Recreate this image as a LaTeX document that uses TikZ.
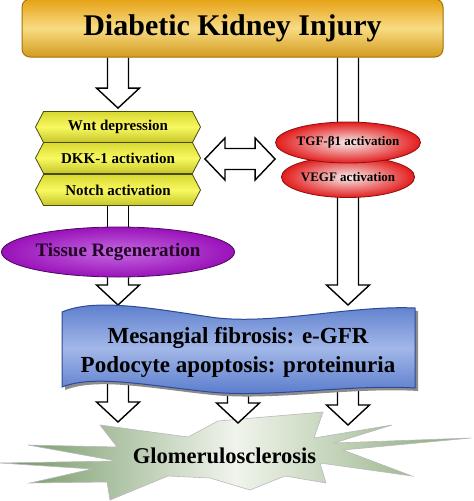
\documentclass[tikz,border=0pt]{standalone}
\usepackage{fontspec}
\setmainfont{Liberation Serif}
\usetikzlibrary{calc,shapes.symbols,shapes.geometric}
\pgfdeclarelayer{burst}
\pgfdeclarelayer{arrows}
\pgfsetlayers{burst,arrows,main}
\definecolor{gd1}{HTML}{E5A114}
\definecolor{gd2}{HTML}{F8DC84}
\definecolor{gd3}{HTML}{D39B1E}
\definecolor{gdb}{HTML}{A67208}
\definecolor{yc1}{HTML}{D8D832}
\definecolor{yc2}{HTML}{F8F860}
\definecolor{yc3}{HTML}{C6C62A}
\definecolor{ycb}{HTML}{4A4A12}
\definecolor{rd1}{HTML}{F6ECEC}
\definecolor{rd2}{HTML}{E41C1C}
\definecolor{rdb}{HTML}{8A1010}
\definecolor{pp1}{HTML}{C46AE0}
\definecolor{pp2}{HTML}{9A12BA}
\definecolor{ppb}{HTML}{4A0A5A}
\definecolor{ppt}{HTML}{240026}
\definecolor{bl1}{HTML}{5477CA}
\definecolor{bl2}{HTML}{A3B8E8}
\definecolor{blb}{HTML}{2C4A96}
\definecolor{sg1}{HTML}{6F9460}
\definecolor{sg2}{HTML}{F0F4EC}
\definecolor{sg3}{HTML}{86A674}
\tikzset{
 barrow/.style={draw=black,fill=white,line width=1.4pt,line join=miter},
 dkibox/.style={draw=gdb,line width=1pt,rounded corners=8pt,minimum width=421pt,minimum height=58pt,
   top color=gd1,bottom color=gd3,middle color=gd2,font=\fontsize{30}{36}\selectfont\bfseries},
 hexa/.style={shape=signal,signal to=east and west,signal pointer angle=125,minimum width=165pt,
   minimum height=31pt,inner sep=0pt,draw=ycb,line width=0.8pt,
   top color=yc1,bottom color=yc3,middle color=yc2,font=\fontsize{15}{18}\selectfont\bfseries},
 redell/.style={ellipse,minimum width=130pt,minimum height=41pt,inner sep=0pt,draw=rdb,line width=0.8pt,
   inner color=rd1,outer color=rd2,font=\fontsize{13}{16}\selectfont\bfseries},
 purell/.style={ellipse,minimum width=194pt,minimum height=50pt,inner sep=0pt,draw=ppb,line width=0.8pt,
   inner color=pp1,outer color=pp2,text=ppt,font=\fontsize{19}{23}\selectfont\bfseries},
 bigtext/.style={align=center,font=\fontsize{23}{29}\selectfont\bfseries},
 burstext/.style={font=\fontsize{22.5}{27}\selectfont\bfseries}
}
\newcommand\blockdown[2]{%
 \draw[barrow] let \p1=(#1), \p2=(#2) in
  (\x1-10.5pt,\y1) -- (\x1-10.5pt,\y2+20pt) -- (\x1-21.5pt,\y2+20pt) -- (\x1,\y2)
  -- (\x1+21.5pt,\y2+20pt) -- (\x1+10.5pt,\y2+20pt) -- (\x1+10.5pt,\y1);}
\newcommand\blockshaft[2]{%
 \draw[barrow] let \p1=(#1), \p2=(#2) in
  (\x1-10.5pt,\y1) -- (\x1-10.5pt,\y2) -- (\x1+10.5pt,\y2) -- (\x1+10.5pt,\y1);}
\newcommand\blockdouble[2]{%
 \draw[barrow] let \p1=(#1), \p2=(#2) in
  (\x1,\y1) -- (\x1+20pt,\y1+21pt) -- (\x1+20pt,\y1+10.5pt) -- (\x2-20pt,\y1+10.5pt)
  -- (\x2-20pt,\y1+21pt) -- (\x2,\y1) -- (\x2-20pt,\y1-21pt) -- (\x2-20pt,\y1-10.5pt)
  -- (\x1+20pt,\y1-10.5pt) -- (\x1+20pt,\y1-21pt) -- cycle;}
\begin{document}
\begin{tikzpicture}[x=1pt,y=-1pt]
\path[use as bounding box] (0,0) rectangle (474,501);
% wavy banner with shadow
\path[fill=black!45]
 (65,315) .. controls (98,301) and (153,311) .. (213,320) .. controls (273,329) and (353,308) .. (418,311)
 -- (418,391) .. controls (353,387) and (273,401) .. (213,395) .. controls (153,389) and (98,377) .. (65,390) -- cycle;
\path[draw=blb,line width=1pt,top color=bl1,bottom color=bl1,middle color=bl2]
 (62,312) .. controls (95,298) and (150,308) .. (210,317) .. controls (270,326) and (350,305) .. (415,308)
 -- (415,388) .. controls (350,384) and (270,398) .. (210,392) .. controls (150,386) and (95,374) .. (62,387) -- cycle;
% nodes
\node[dkibox] (dki) at (232.5,28) {Diabetic Kidney Injury};
\node[hexa] (w1) at (118,127) {Wnt depression};
\node[hexa] (w2) at (118,158) {DKK-1 activation};
\node[hexa] (w3) at (118,190) {Notch activation};
\node[redell] (vegf) at (348,177) {VEGF activation};
\node[redell] (tgf) at (348,142.5) {TGF-β1 activation};
\node[purell] (pur) at (118,252) {Tissue Regeneration};
\node[bigtext] (mid) at (238,352) {Mesangial fibrosis: e-GFR\\Podocyte apoptosis: proteinuria};
\node[burstext] (glo) at (224.5,456) {Glomerulosclerosis};
% free ends
\coordinate (bt1) at (118,305);
\coordinate (bt2) at (348,305);
\coordinate (bb1) at (118,380);
\coordinate (bb2) at (238,380);
\coordinate (bb3) at (348,380);
\coordinate (gt1) at (118,422);
\coordinate (gt2) at (238,423);
\coordinate (gt3) at (348,425);
% starburst
\begin{pgfonlayer}{burst}
\path[draw=gray!55,line width=0.6pt,left color=sg1,right color=sg3,middle color=sg2]
 (100,425) -- (188,437) -- (218,421) -- (323,412) -- (314,438) -- (392,425) -- (334,443)
 -- (471,438) -- (343,450) -- (412,476) -- (320,463) -- (326,483) -- (285,476) -- (250,490)
 -- (210,478) -- (168,476) -- (110,500) -- (107,482) -- (30,483) -- (92,469) -- (0,463)
 -- (117,461) -- (28,445) -- (117,447) -- cycle;
\end{pgfonlayer}
% arrows
\begin{pgfonlayer}{arrows}
\blockdown{w1.north |- dki.south}{$(w1.north)+(0,-3)$}
\blockshaft{w3.south}{pur.center}
\blockdown{pur.south}{bt1}
\blockdown{tgf.north |- dki.south}{bt2}
\blockdouble{$(w2.east)+(4,1)$}{$(tgf.west |- w2.east)+(0,1)$}
\blockdown{bb1}{gt1}
\blockdown{bb2}{gt2}
\blockdown{bb3}{gt3}
\end{pgfonlayer}
\end{tikzpicture}
\end{document}
